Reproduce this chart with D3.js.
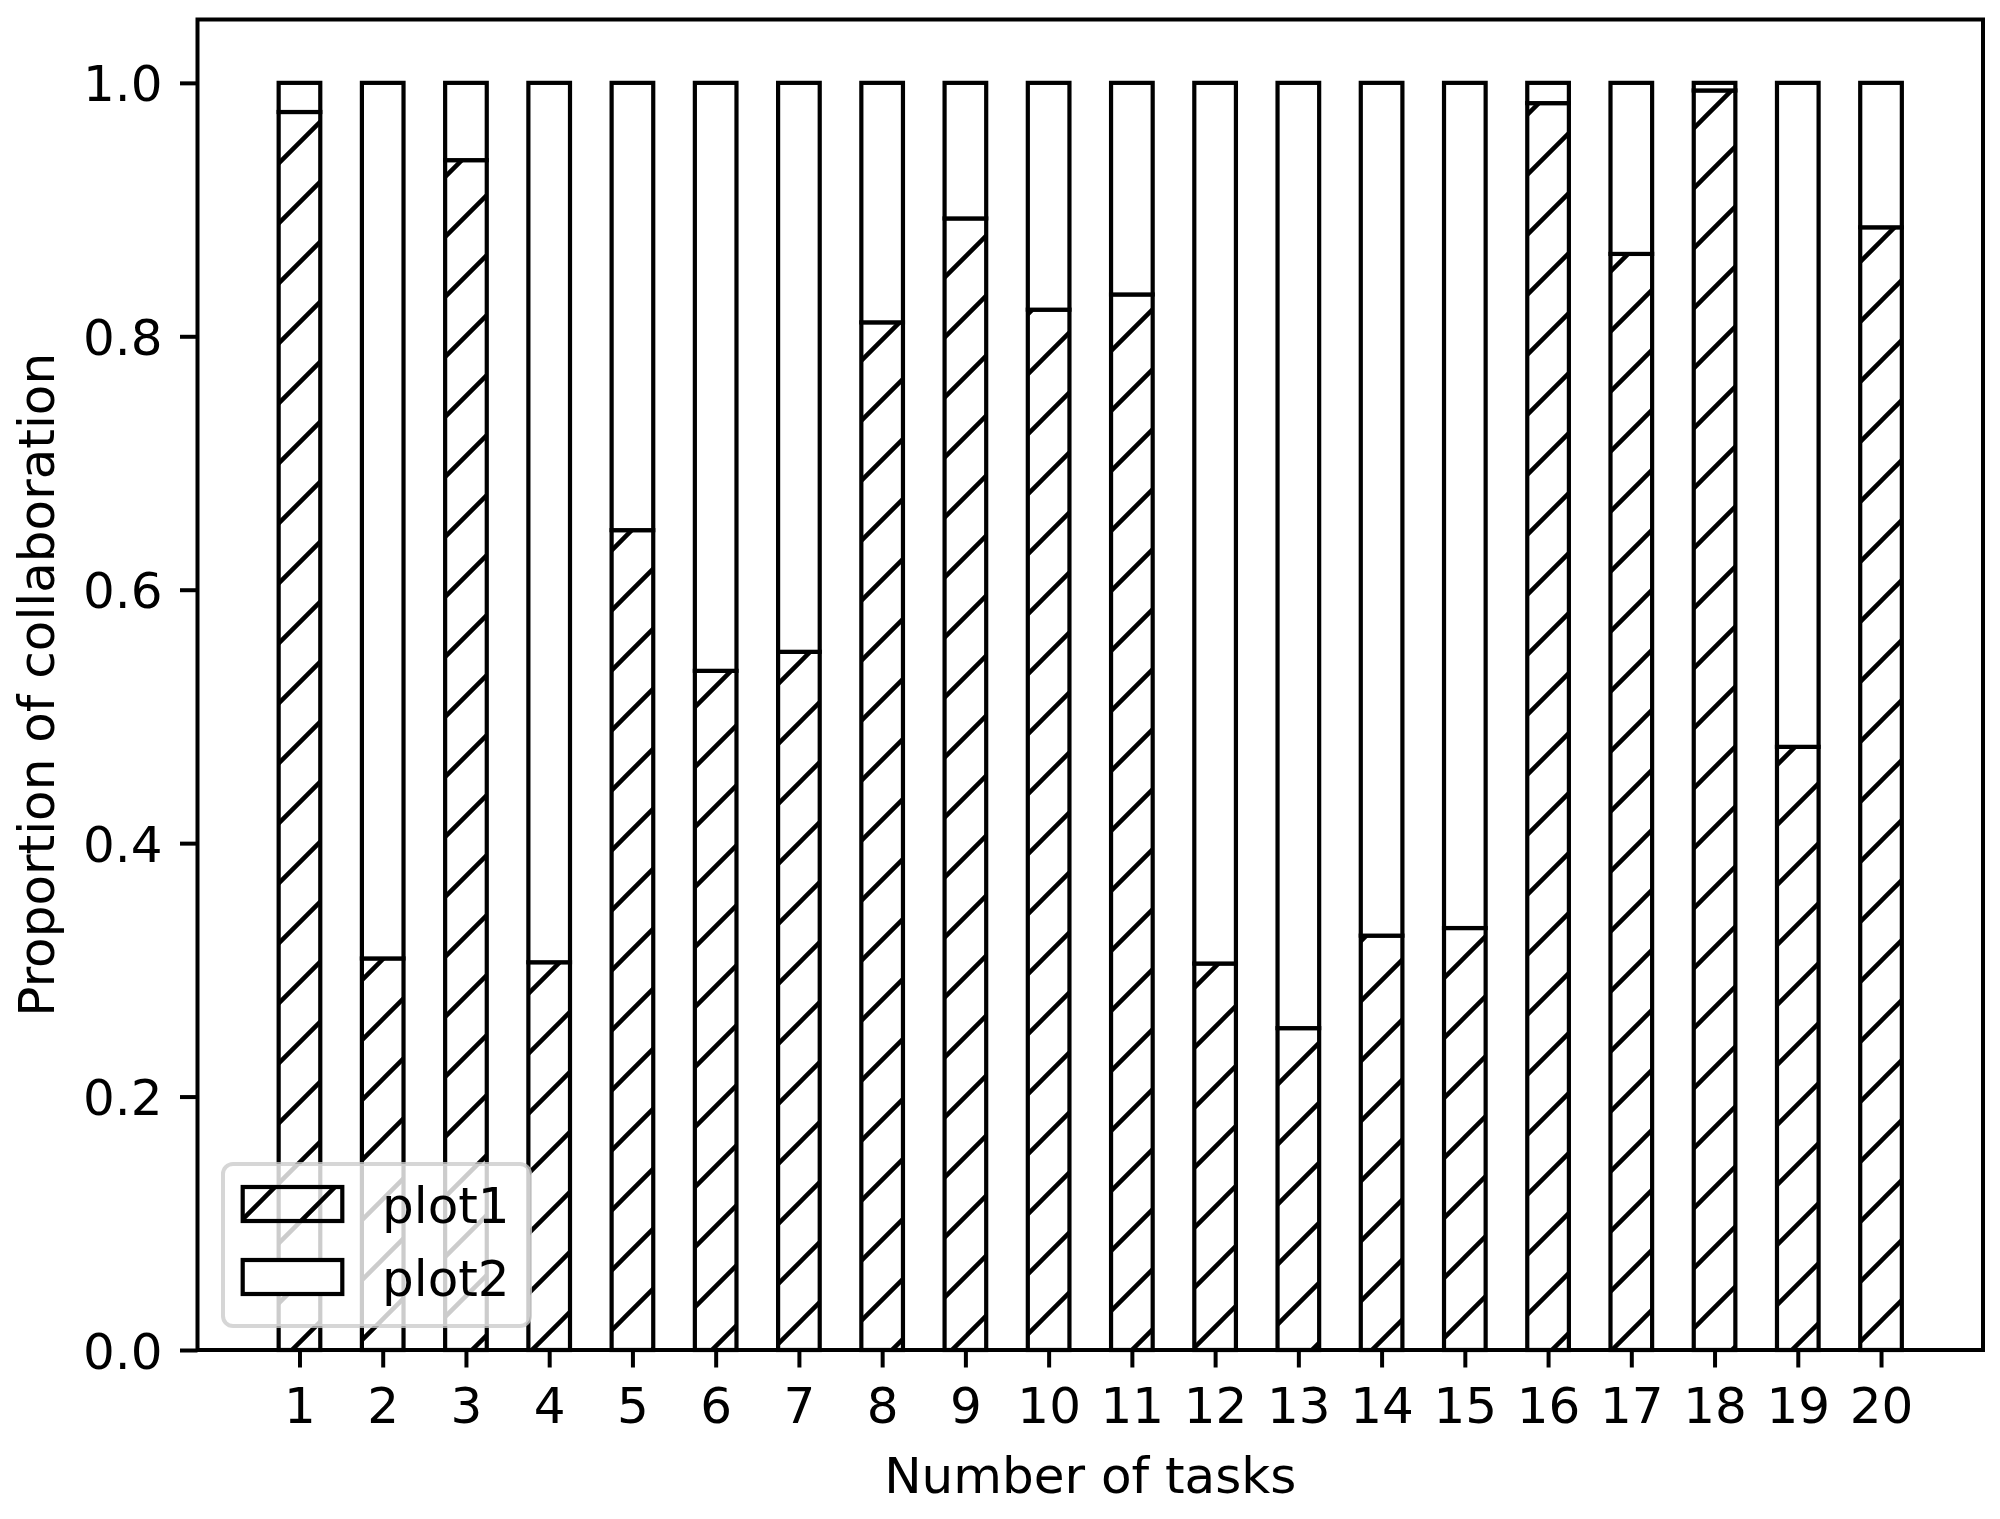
<!DOCTYPE html>
<html>
<head>
<meta charset="utf-8">
<script src="https://cdn.jsdelivr.net/npm/d3@7"></script>
<style>
  body { margin: 0; background: #fff; }
  svg { display: block; font-family: "DejaVu Sans", sans-serif; }
</style>
</head>
<body>
<svg id="chart" width="2000" height="1519"></svg>
<script>
const tasks = [1, 2, 3, 4, 5, 6, 7, 8, 9, 10, 11, 12, 13, 14, 15, 16, 17, 18, 19, 20];
const plot1 = [0.977, 0.309, 0.939, 0.306, 0.647, 0.536, 0.551, 0.811, 0.893, 0.821,
               0.833, 0.305, 0.254, 0.327, 0.333, 0.984, 0.865, 0.994, 0.476, 0.886];
const plot2 = [0.023, 0.691, 0.061, 0.694, 0.353, 0.464, 0.449, 0.189, 0.107, 0.179,
               0.167, 0.695, 0.746, 0.673, 0.667, 0.016, 0.135, 0.006, 0.524, 0.114];
const yTicks = [0, 0.2, 0.4, 0.6, 0.8, 1.0];
const seriesNames = ["plot1", "plot2"];

const svg = d3.select("#chart");

// zone du graphique (pixels)
const plotLeft = 197.5, plotRight = 1983, plotTop = 19.5, plotBottom = 1350;
const barWidth = 0.5;
const lw = 4.2;

const x = d3.scaleLinear().domain([-0.225, 21.225]).range([plotLeft, plotRight]);
const y = d3.scaleLinear().domain([0, 1.05]).range([plotBottom, plotTop]);

// motif de hachures "/"
svg.append("defs").append("pattern")
    .attr("id", "hatch")
    .attr("patternUnits", "userSpaceOnUse")
    .attr("x", 22).attr("y", 0)
    .attr("width", 60).attr("height", 60)
  .append("path")
    .attr("d", "M-15,15 L15,-15 M0,60 L60,0 M45,75 L75,45")
    .attr("stroke", "#000")
    .attr("stroke-width", 4.5)
    .attr("fill", "none");

// 1. BARRES EMPILÉES
const rows = tasks.map((t, i) => ({ task: t, plot1: plot1[i], plot2: plot2[i] }));
const stacked = d3.stack().keys(seriesNames)(rows);
const fills = { plot1: "url(#hatch)", plot2: "#fff" };

svg.selectAll("g.series")
    .data(stacked)
    .join("g")
    .attr("class", "series")
    .attr("fill", d => fills[d.key])
  .selectAll("rect")
    .data(d => d)
    .join("rect")
    .attr("x", d => x(d.data.task - barWidth / 2))
    .attr("width", x(barWidth) - x(0))
    .attr("y", d => y(d[1]))
    .attr("height", d => y(d[0]) - y(d[1]))
    .attr("stroke", "#000")
    .attr("stroke-width", lw);

// 2. AXES
const yAxis = svg.append("g")
    .attr("transform", `translate(${plotLeft},0)`)
    .call(d3.axisLeft(y).tickValues(yTicks).tickFormat(d3.format(".1f"))
        .tickSize(17.5).tickPadding(17.5));

const xAxis = svg.append("g")
    .attr("transform", `translate(0,${plotBottom})`)
    .call(d3.axisBottom(x).tickValues(tasks).tickFormat(d3.format("d"))
        .tickSize(17.5).tickPadding(17.5));

[yAxis, xAxis].forEach(a => {
    a.select(".domain").remove();
    a.selectAll(".tick line").attr("stroke", "#000").attr("stroke-width", 4);
    a.selectAll(".tick text")
        .attr("fill", "#000")
        .style("font-size", "50px")
        .style("font-family", "DejaVu Sans");
});
yAxis.selectAll(".tick text").attr("dy", "0.36em");
xAxis.selectAll(".tick text").attr("dy", "0.76em");

// cadre
svg.append("rect")
    .attr("x", plotLeft).attr("y", plotTop)
    .attr("width", plotRight - plotLeft).attr("height", plotBottom - plotTop)
    .attr("fill", "none")
    .attr("stroke", "#000")
    .attr("stroke-width", 4);

// titres des axes
svg.append("text")
    .attr("x", (plotLeft + plotRight) / 2).attr("y", 1493)
    .attr("text-anchor", "middle")
    .style("font-size", "50px")
    .text("Number of tasks");

svg.append("text")
    .attr("transform", `translate(54,${(plotTop + plotBottom) / 2}) rotate(-90)`)
    .attr("text-anchor", "middle")
    .style("font-size", "50px")
    .text("Proportion of collaboration");

// 3. LÉGENDE
const legend = svg.append("g");
legend.append("rect")
    .attr("x", 223).attr("y", 1164)
    .attr("width", 307).attr("height", 162)
    .attr("rx", 10).attr("ry", 10)
    .attr("fill", "rgba(255,255,255,0.8)")
    .attr("stroke", "rgba(204,204,204,0.8)")
    .attr("stroke-width", 4);

const items = legend.selectAll("g.item")
    .data(seriesNames)
    .join("g")
    .attr("class", "item");

items.append("rect")
    .attr("x", 242.7)
    .attr("y", (d, i) => 1187 + i * 73)
    .attr("width", 99.6).attr("height", 34)
    .attr("fill", d => fills[d])
    .attr("stroke", "#000")
    .attr("stroke-width", lw);

items.append("text")
    .attr("x", 382)
    .attr("y", (d, i) => 1222.7 + i * 73)
    .style("font-size", "50px")
    .text(d => d);
</script>
</body>
</html>
